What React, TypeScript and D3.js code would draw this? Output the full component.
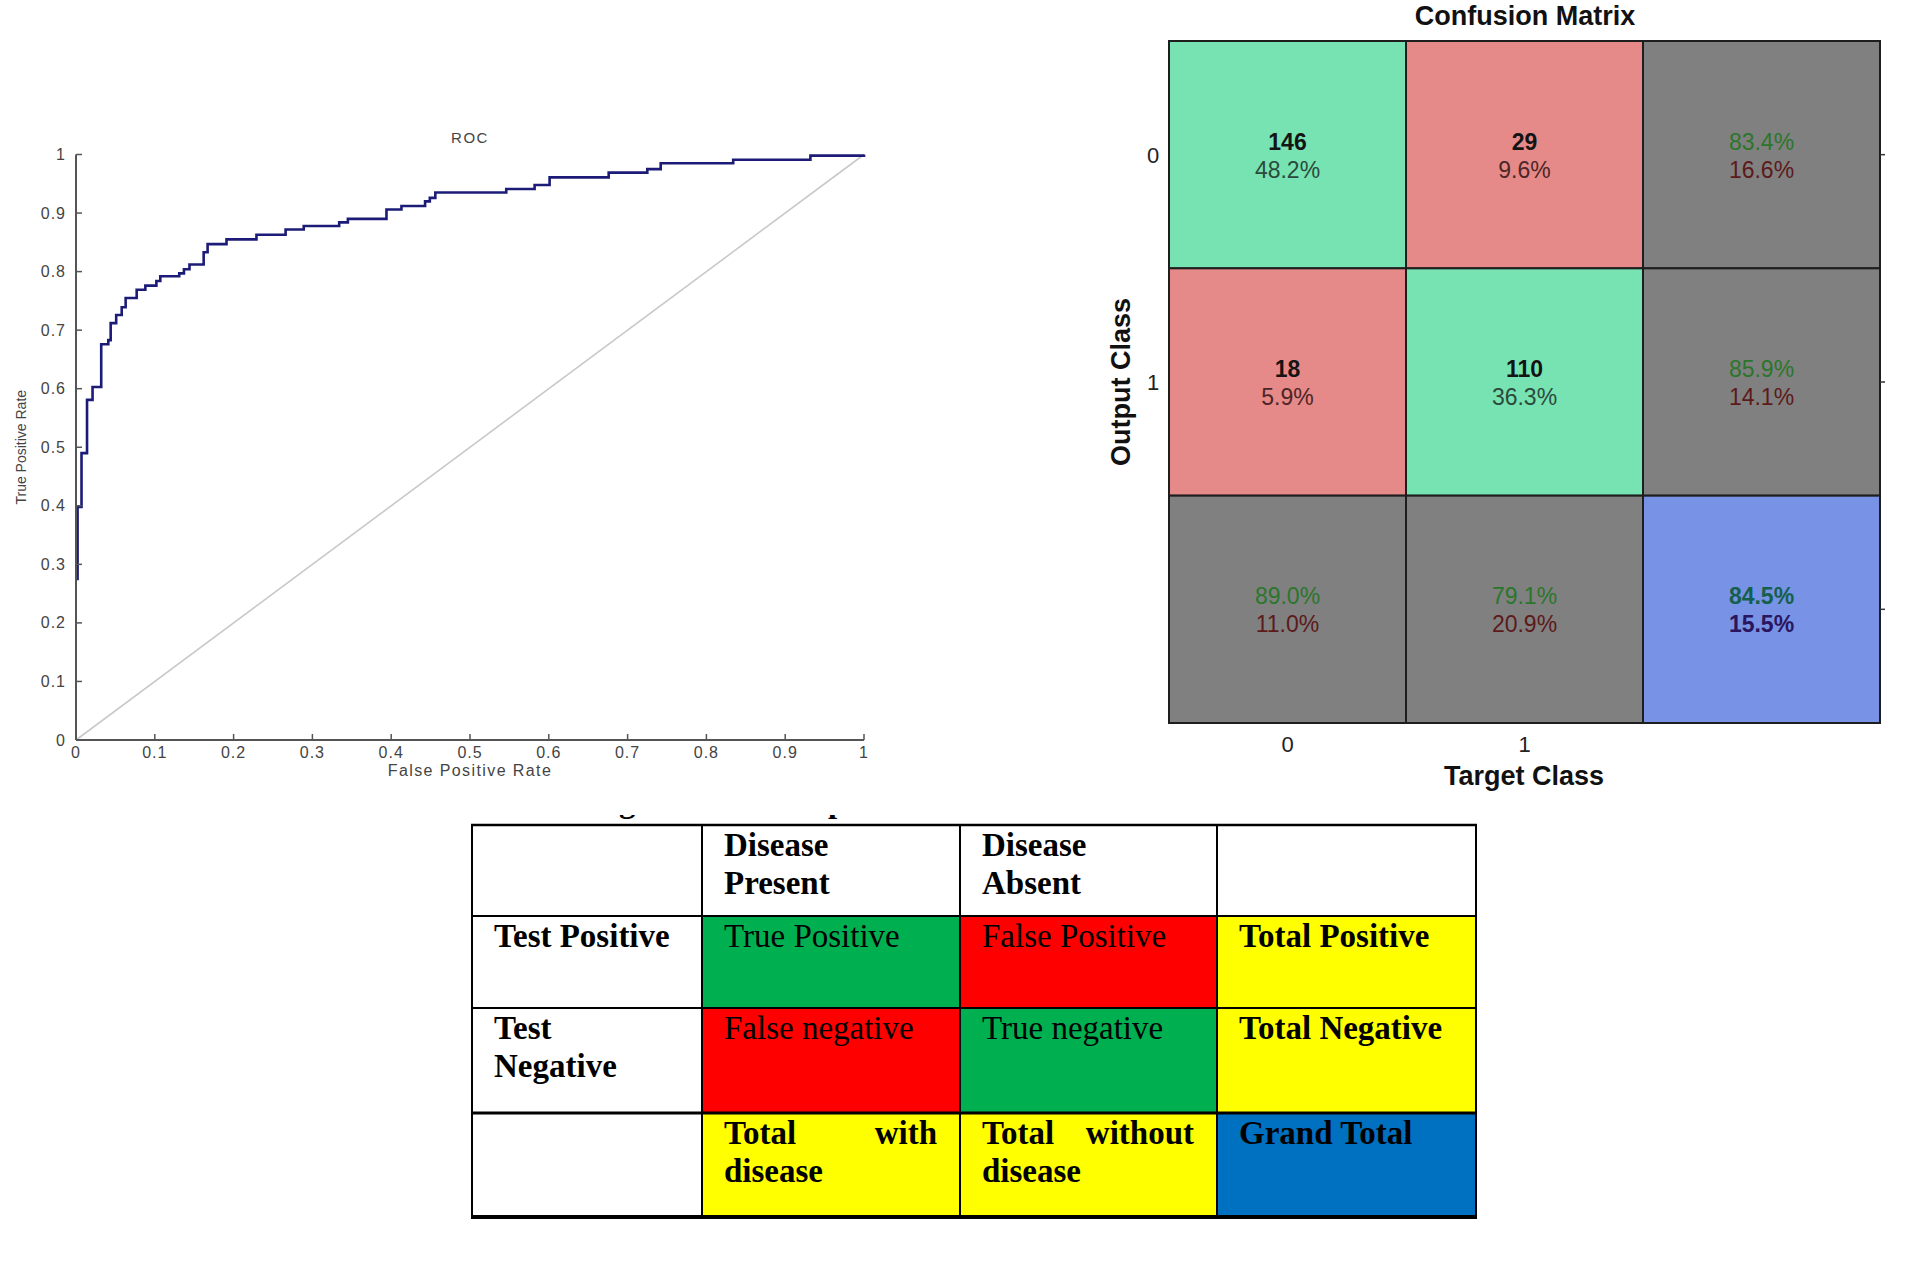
import React from 'react'
import * as d3 from 'd3'

// ROC curve: corner points of the step curve (false positive rate, true positive rate)
const rocFpr = [
  0.002, 0.002, 0.007, 0.014, 0.021, 0.032, 0.041, 0.044, 0.051, 0.058, 0.063, 0.077, 0.088, 0.102,
  0.107, 0.131, 0.137, 0.144, 0.162, 0.167, 0.191, 0.229, 0.266, 0.289, 0.334, 0.345, 0.394, 0.413,
  0.443, 0.449, 0.456, 0.546, 0.582, 0.601, 0.676, 0.725, 0.742, 0.834, 0.932, 1.0,
]
const rocTpr = [
  0.273, 0.398, 0.49, 0.581, 0.603, 0.676, 0.683, 0.712, 0.726, 0.739, 0.755, 0.769, 0.776, 0.784,
  0.792, 0.797, 0.804, 0.812, 0.833, 0.847, 0.855, 0.863, 0.872, 0.878, 0.884, 0.89, 0.906, 0.912,
  0.92, 0.926, 0.935, 0.941, 0.948, 0.961, 0.969, 0.975, 0.985, 0.991, 0.998, 1.0,
]

// confusion matrix counts: rows = output class, cols = target class
const classLabels = ['0', '1']
const confusionCounts = [
  [146, 29],
  [18, 110],
]

// diagnostic test table
const tableHeader = ['', 'Disease\nPresent', 'Disease\nAbsent', '']
const tableRowLabels = ['Test Positive', 'Test\nNegative', '']
const tableCells = [
  ['True Positive', 'False Positive', 'Total Positive'],
  ['False negative', 'True negative', 'Total Negative'],
  ['Total with\ndisease', 'Total without\ndisease', 'Grand Total'],
]
const tableKinds = [
  ['true', 'false', 'total'],
  ['false', 'true', 'total'],
  ['total', 'total', 'grand'],
]

const sans = "'Liberation Sans', Arial, sans-serif"
const serif = "'Liberation Serif', 'Times New Roman', serif"

function RocChart() {
  const x = d3.scaleLinear().domain([0, 1]).range([76, 864])
  const y = d3.scaleLinear().domain([0, 1]).range([740, 154.5])
  const pts = rocFpr.map((f, i) => [f, rocTpr[i]] as [number, number])
  const path = d3
    .line<[number, number]>()
    .x((d) => x(d[0]))
    .y((d) => y(d[1]))
    .curve(d3.curveStepAfter)(pts)
  const ticks = x.ticks(10)
  const fmt = (t: number) => String(+t.toFixed(1))
  const axisColor = '#555'
  return (
    <g>
      <text x={470} y={143} textAnchor="middle" fontFamily={sans} fontSize={15} letterSpacing={1.5} fill="#444">
        ROC
      </text>
      <line x1={x(0)} y1={y(0)} x2={x(1)} y2={y(1)} stroke="#c9c9c9" strokeWidth={1.6} />
      <path d={path || ''} fill="none" stroke="#1c1c78" strokeWidth={2.6} />
      <line x1={x(0)} y1={y(0)} x2={x(0)} y2={y(1)} stroke={axisColor} strokeWidth={2} />
      <line x1={x(0)} y1={y(0)} x2={x(1)} y2={y(0)} stroke={axisColor} strokeWidth={2} />
      {ticks.map((t) => (
        <g key={'y' + t}>
          <line x1={x(0)} x2={x(0) + 6} y1={y(t)} y2={y(t)} stroke={axisColor} strokeWidth={1.5} />
          <text
            x={66}
            y={y(t) + 5.5}
            textAnchor="end"
            fontFamily={sans}
            fontSize={16}
            letterSpacing={1}
            fill="#444"
          >
            {fmt(t)}
          </text>
        </g>
      ))}
      {ticks.map((t) => (
        <g key={'x' + t}>
          <line x1={x(t)} x2={x(t)} y1={y(0)} y2={y(0) - 6} stroke={axisColor} strokeWidth={1.5} />
          <text x={x(t)} y={758} textAnchor="middle" fontFamily={sans} fontSize={16} letterSpacing={1} fill="#444">
            {fmt(t)}
          </text>
        </g>
      ))}
      <text x={470} y={776} textAnchor="middle" fontFamily={sans} fontSize={16} letterSpacing={1.4} fill="#444">
        False Positive Rate
      </text>
      <text
        transform={`translate(26,${(y(0) + y(1)) / 2}) rotate(-90)`}
        textAnchor="middle"
        fontFamily={sans}
        fontSize={14}
        fill="#444"
      >
        True Positive Rate
      </text>
    </g>
  )
}

function ConfusionMatrix() {
  const n = classLabels.length
  const idx = d3.range(n + 1)
  const x = d3.scaleBand<number>().domain(idx).range([1169, 1880])
  const y = d3.scaleBand<number>().domain(idx).range([41, 723])
  const total = d3.sum(confusionCounts.flat())
  const pct = d3.format('.1f')
  const cells: {
    r: number
    c: number
    fill: string
    top: string
    bottom: string
    topColor: string
    bottomColor: string
    bold: boolean
  }[] = []
  for (let r = 0; r <= n; r++) {
    for (let c = 0; c <= n; c++) {
      if (r < n && c < n) {
        const v = confusionCounts[r][c]
        const diag = r === c
        cells.push({
          r,
          c,
          fill: diag ? '#77e3b3' : '#e58a89',
          top: String(v),
          bottom: pct((v / total) * 100) + '%',
          topColor: '#141414',
          bottomColor: diag ? '#2b4a3b' : '#4e2626',
          bold: false,
        })
      } else {
        let good = 0
        let all = 0
        if (r < n) {
          good = confusionCounts[r][r]
          all = d3.sum(confusionCounts[r])
        } else if (c < n) {
          good = confusionCounts[c][c]
          all = d3.sum(confusionCounts, (row) => row[c])
        } else {
          good = d3.sum(d3.range(n), (i) => confusionCounts[i][i])
          all = total
        }
        const acc = (good / all) * 100
        const corner = r === n && c === n
        cells.push({
          r,
          c,
          fill: corner ? '#7892e5' : '#808080',
          top: pct(acc) + '%',
          bottom: pct(100 - acc) + '%',
          topColor: corner ? '#14604c' : '#2b762b',
          bottomColor: corner ? '#2a1660' : '#5c1a1a',
          bold: corner,
        })
      }
    }
  }
  return (
    <g>
      <text x={1525} y={25} textAnchor="middle" fontFamily={sans} fontWeight="bold" fontSize={27} fill="#111">
        Confusion Matrix
      </text>
      {cells.map((d) => {
        const cx = x(d.c)! + x.bandwidth() / 2
        const cy = y(d.r)! + y.bandwidth() / 2
        const counted = d.r < n && d.c < n
        return (
          <g key={`${d.r}-${d.c}`}>
            <rect
              x={x(d.c)}
              y={y(d.r)}
              width={x.bandwidth()}
              height={y.bandwidth()}
              fill={d.fill}
              stroke="#1e1e1e"
              strokeWidth={2}
            />
            <text
              x={cx}
              y={cy - 5}
              textAnchor="middle"
              fontFamily={sans}
              fontSize={23}
              fontWeight={counted || d.bold ? 'bold' : 'normal'}
              fill={d.topColor}
            >
              {d.top}
            </text>
            <text
              x={cx}
              y={cy + 23}
              textAnchor="middle"
              fontFamily={sans}
              fontSize={23}
              fontWeight={d.bold ? 'bold' : 'normal'}
              fill={d.bottomColor}
            >
              {d.bottom}
            </text>
          </g>
        )
      })}
      {idx.map((i) => (
        <line
          key={'rt' + i}
          x1={1880}
          x2={1885}
          y1={y(i)! + y.bandwidth() / 2}
          y2={y(i)! + y.bandwidth() / 2}
          stroke="#333"
          strokeWidth={1.5}
        />
      ))}
      {classLabels.map((l, i) => (
        <g key={'lab' + l}>
          <text x={1153} y={y(i)! + y.bandwidth() / 2 + 8} textAnchor="middle" fontFamily={sans} fontSize={22} fill="#222">
            {l}
          </text>
          <text x={x(i)! + x.bandwidth() / 2} y={752} textAnchor="middle" fontFamily={sans} fontSize={22} fill="#222">
            {l}
          </text>
        </g>
      ))}
      <text x={1524} y={785} textAnchor="middle" fontFamily={sans} fontWeight="bold" fontSize={27} fill="#111">
        Target Class
      </text>
      <text
        transform={`translate(1130,${(41 + 723) / 2}) rotate(-90)`}
        textAnchor="middle"
        fontFamily={sans}
        fontWeight="bold"
        fontSize={27}
        fill="#111"
      >
        Output Class
      </text>
    </g>
  )
}

const kindFill: Record<string, string> = {
  true: '#00b050',
  false: '#ff0000',
  total: '#ffff00',
  grand: '#0070c0',
}

function CellText({ text, x0, x1, top, bold }: { text: string; x0: number; x1: number; top: number; bold: boolean }) {
  const lines = text.split('\n')
  const pad = 22
  return (
    <g fontFamily={serif} fontSize={33} fontWeight={bold ? 'bold' : 'normal'} fill="#000">
      {lines.map((line, i) => {
        const yy = top + 31 + i * 37.5
        const words = line.split(' ')
        // first line of a wrapped paragraph is justified across the cell
        if (lines.length > 1 && i === 0 && words.length === 2 && bold && text.startsWith('Total')) {
          return (
            <g key={i}>
              <text x={x0 + pad} y={yy}>
                {words[0]}
              </text>
              <text x={x1 - pad - 1} y={yy} textAnchor="end">
                {words[1]}
              </text>
            </g>
          )
        }
        return (
          <text key={i} x={x0 + pad} y={yy}>
            {line}
          </text>
        )
      })}
    </g>
  )
}

function DiagnosticTable() {
  const colEdges = [472, 702, 960, 1217, 1476]
  const rowEdges = [825, 916, 1008, 1113, 1217]
  return (
    <g>
      {/* descenders of the caption line above the table */}
      <clipPath id="captionClip">
        <rect x={560} y={815} width={400} height={9} />
      </clipPath>
      <g clipPath="url(#captionClip)" fontFamily={serif} fontSize={33} fontWeight="bold">
        <text x={619} y={812}>
          g
        </text>
        <text x={828} y={812}>
          p
        </text>
      </g>
      {tableCells.map((row, r) =>
        row.map((_, c) => (
          <rect
            key={`f${r}-${c}`}
            x={colEdges[c + 1]}
            y={rowEdges[r + 1]}
            width={colEdges[c + 2] - colEdges[c + 1]}
            height={rowEdges[r + 2] - rowEdges[r + 1]}
            fill={kindFill[tableKinds[r][c]]}
          />
        )),
      )}
      {tableHeader.map((h, c) =>
        h ? <CellText key={'h' + c} text={h} x0={colEdges[c]} x1={colEdges[c + 1]} top={rowEdges[0]} bold /> : null,
      )}
      {tableRowLabels.map((l, r) =>
        l ? <CellText key={'r' + r} text={l} x0={colEdges[0]} x1={colEdges[1]} top={rowEdges[r + 1]} bold /> : null,
      )}
      {tableCells.map((row, r) =>
        row.map((t, c) => (
          <CellText
            key={`t${r}-${c}`}
            text={t}
            x0={colEdges[c + 1]}
            x1={colEdges[c + 2]}
            top={rowEdges[r + 1]}
            bold={tableKinds[r][c] !== 'true' && tableKinds[r][c] !== 'false'}
          />
        )),
      )}
      {rowEdges.map((ry, i) => (
        <line
          key={'h' + i}
          x1={colEdges[0] - 1}
          x2={colEdges[colEdges.length - 1] + 1}
          y1={ry}
          y2={ry}
          stroke="#000"
          strokeWidth={i === rowEdges.length - 1 ? 4 : i === 3 ? 3 : i === 0 ? 2.5 : 2}
        />
      ))}
      {colEdges.map((cx, i) => (
        <line key={'v' + i} x1={cx} x2={cx} y1={rowEdges[0]} y2={rowEdges[rowEdges.length - 1]} stroke="#000" strokeWidth={2} />
      ))}
    </g>
  )
}

export default function App() {
  return (
    <svg
      width={1909}
      height={1288}
      style={{ position: 'absolute', left: 0, top: 0, background: '#fff' }}
    >
      <RocChart />
      <ConfusionMatrix />
      <DiagnosticTable />
    </svg>
  )
}
